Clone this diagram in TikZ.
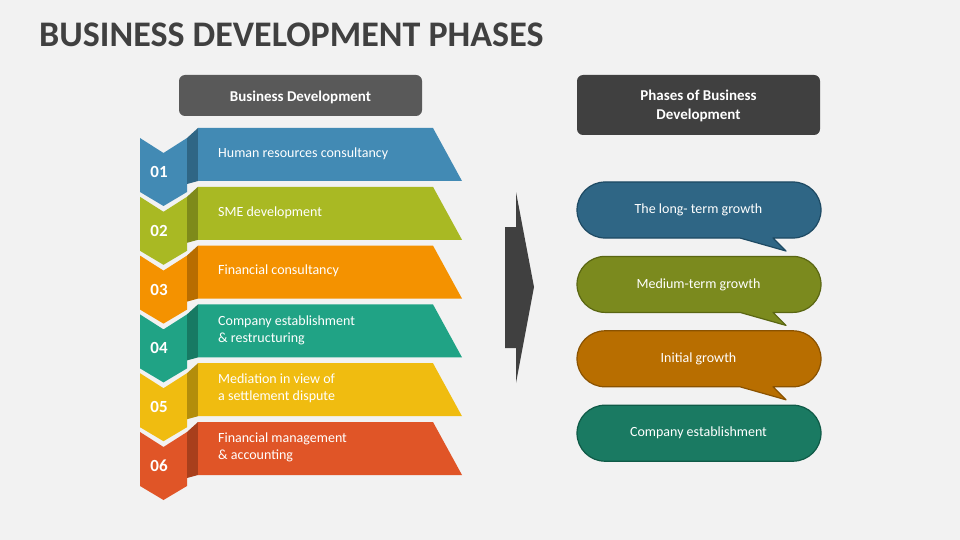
\documentclass[tikz,border=0pt]{standalone}
\usepackage{fontspec}
\setmainfont{Carlito}
\definecolor{bg}{HTML}{F2F2F2}
\definecolor{titlec}{HTML}{404040}
\definecolor{hdrA}{HTML}{595959}
\definecolor{hdrB}{HTML}{404040}
\definecolor{cA}{HTML}{428AB4}\definecolor{dA}{HTML}{2F6685}
\definecolor{cB}{HTML}{A9B923}\definecolor{dB}{HTML}{7E8A1A}
\definecolor{cC}{HTML}{F49200}\definecolor{dC}{HTML}{B86D00}
\definecolor{cD}{HTML}{20A385}\definecolor{dD}{HTML}{177A63}
\definecolor{cE}{HTML}{F0BC10}\definecolor{dE}{HTML}{B38D0B}
\definecolor{cF}{HTML}{E05527}\definecolor{dF}{HTML}{A83F1C}
\definecolor{bA}{HTML}{2F6685}\definecolor{bAd}{HTML}{1E4A63}
\definecolor{bB}{HTML}{7B8A1E}\definecolor{bBd}{HTML}{5A6612}
\definecolor{bC}{HTML}{B86E00}\definecolor{bCd}{HTML}{8A5200}
\definecolor{bD}{HTML}{1A7A62}\definecolor{bDd}{HTML}{0F5A47}
\tikzset{
  bandtext/.style={anchor=west, text=white, font=\fontsize{14}{17}\selectfont, align=left, inner sep=0pt},
  numtext/.style={text=white, font=\bfseries\fontsize{17}{20}\selectfont, inner sep=0pt},
  hdrtext/.style={text=white, font=\bfseries\fontsize{15}{18.5}\selectfont, align=center, inner sep=0pt},
  bubtext/.style={text=white, font=\fontsize{14}{16}\selectfont, inner sep=0pt},
}
\begin{document}
\begin{tikzpicture}[x=1pt,y=-1pt]
\useasboundingbox (0,0) rectangle (960,540);
\fill[bg] (0,0) rectangle (960,540);
\node[anchor=base west, inner sep=0pt, text=titlec, font=\bfseries\fontsize{36}{40}\selectfont] (title) at (39,47) {BUSINESS DEVELOPMENT PHASES};
% headers
\fill[hdrA, rounded corners=6pt] (179,75) rectangle (422,116);
\node[hdrtext] (hdrL) at (300.5,97.5) {Business Development};
\fill[hdrB, rounded corners=6pt] (577,75) rectangle (820,135);
\node[hdrtext] (hdrR) at (698.5,106) {Phases of Business\\Development};
% bands
\foreach \i/\c/\d/\t in {1/cA/dA/{Human resources consultancy},2/cB/dB/{SME development},3/cC/dC/{Financial consultancy},4/cD/dD/{Company establishment\\\& restructuring},5/cE/dE/{Mediation in view of\\a settlement dispute},6/cF/dF/{Financial management\\\& accounting}}{
  \pgfmathsetmacro{\T}{128+58.8*(\i-1)}
  \fill[\c] (140,\T+10) -- (163.5,\T+25) -- (187,\T+10) -- (187,\T+64) -- (163.5,\T+78) -- (140,\T+64) -- cycle;
  \fill[\d] (187,\T+10) -- (198,\T) -- (198,\T+53) -- (187,\T+56) -- cycle;
  \fill[\c] (198,\T) -- (433,\T) -- (462,\T+53) -- (198,\T+53) -- cycle;
  \node[bandtext] (txt\i) at (218,\T+25.5) {\t};
  \node[numtext] (num\i) at (159,\T+44) {0\i};
}
% big arrow
\fill[titlec] (505,227) -- (516,227) -- (516,192) -- (534,287) -- (516,383) -- (516,348) -- (505,348) -- cycle;
% bubbles
\foreach \j/\c/\d/\t/\tl in {1/bA/bAd/{The long- term growth}/1,2/bB/bBd/{Medium-term growth}/1,3/bC/bCd/{Initial growth}/1,4/bD/bDd/{Company establishment}/0}{
  \pgfmathsetmacro{\Y}{182+74.4*(\j-1)}
  \ifnum\tl=1
  \filldraw[fill=\c, draw=\d, line width=1.2pt, line join=round] (605,\Y) -- (793,\Y) arc[start angle=-90, end angle=90, radius=28] -- (773,\Y+56) -- (786,\Y+69) -- (740,\Y+56) -- (605,\Y+56) arc[start angle=90, end angle=270, radius=28] -- cycle;
  \else
  \filldraw[fill=\c, draw=\d, line width=1.2pt] (605,\Y) -- (793,\Y) arc[start angle=-90, end angle=90, radius=28] -- (605,\Y+56) arc[start angle=90, end angle=270, radius=28] -- cycle;
  \fi
  \node[bubtext] (bub\j) at (698.5,\Y+28) {\t};
}
\end{tikzpicture}
\end{document}
